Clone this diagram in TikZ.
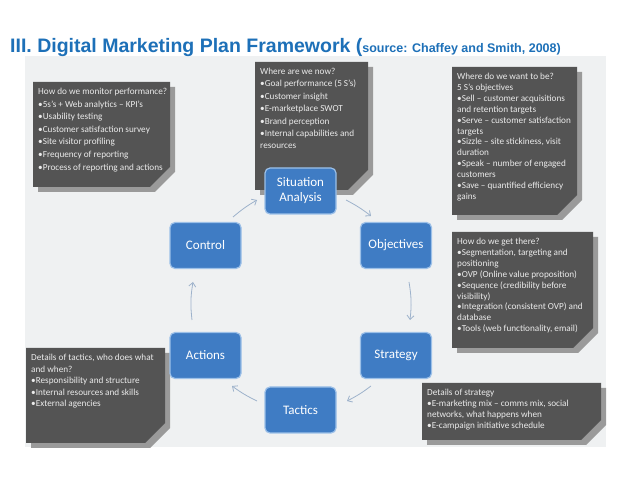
\documentclass[tikz,border=0pt]{standalone}
\usepackage{fontspec}
\setmainfont{Carlito}
\newfontfamily\titlefont{Liberation Sans}
\usetikzlibrary{arrows.meta}
\definecolor{bgc}{HTML}{EFF1F2}
\definecolor{darkc}{HTML}{545454}
\definecolor{shadc}{HTML}{9A9A9A}
\definecolor{bluec}{HTML}{3F7CC4}
\definecolor{blueb}{HTML}{9CC0E8}
\definecolor{titc}{HTML}{1D70B8}
\definecolor{arrc}{HTML}{9DB2CB}
\tikzset{
 stage/.style={draw=blueb,line width=1.2pt,fill=bluec,rounded corners=5pt,minimum width=71pt,minimum height=46pt,text=white,font=\fontsize{13}{15}\selectfont,align=center,inner sep=1pt},
 note/.style={anchor=north west,text=white!92!black,align=flush left,inner sep=0pt},
 flow/.style={draw=arrc,line width=0.8pt,-{Straight Barb[length=4pt,width=7pt]}}
}
\newcommand{\darkbox}[6]{%
 \fill[shadc] (#1+5,#2+5) -- (#3+5,#2+5) -- (#3+5,#4+5-20) -- (#3+5-20,#4+5) -- (#1+5,#4+5) -- cycle;
 \fill[darkc] (#1,#2) -- (#3,#2) -- (#3,#4-20) -- (#3-20,#4) -- (#1,#4) -- cycle;
 \node[note,text width=#3-#1-6,font=\fontsize{9.2}{#6}\selectfont] at (#1+5,#2+6) {#5};}
\begin{document}
\begin{tikzpicture}[x=1pt,y=-1pt]
\useasboundingbox (0,0) rectangle (638,478);
\fill[white] (0,0) rectangle (638,478);
\fill[bgc] (25,56) rectangle (606,447);
\node[anchor=base west,inner sep=0pt,text=titc,font=\titlefont\bfseries] (title) at (10,53)
 {{\fontsize{19.5}{22}\selectfont III. Digital Marketing Plan Framework (}{\fontsize{12.5}{14}\selectfont source: Chaffey and Smith, 2008)}};
% dark notes
\darkbox{33}{82}{170}{187}{How do we monitor performance?\\•5s’s + Web analytics – KPI’s\\•Usability testing\\•Customer satisfaction survey\\•Site visitor profiling\\•Frequency of reporting\\•Process of reporting and actions}{12.6}
\darkbox{255}{62}{368}{190}{Where are we now?\\•Goal performance (5 S’s)\\•Customer insight\\•E-marketplace SWOT\\•Brand perception\\•Internal capabilities and resources}{12.4}
\darkbox{452}{67}{577}{215}{Where do we want to be?\\5 S’s objectives\\•Sell – customer acquisitions and retention targets\\•Serve – customer satisfaction targets\\•Sizzle – site stickiness, visit duration\\•Speak – number of engaged customers\\•Save – quantified efficiency gains}{10.9}
\darkbox{452}{232}{593}{348}{How do we get there?\\•Segmentation, targeting and positioning\\•OVP (Online value proposition)\\•Sequence (credibility before visibility)\\•Integration (consistent OVP) and database\\•Tools (web functionality, email)}{10.9}
\darkbox{422}{383}{601}{440}{Details of strategy\\•E-marketing mix – comms mix, social networks, what happens when\\•E-campaign initiative schedule}{11}
\darkbox{26}{348}{165}{443}{Details of tactics, who does what and when?\\•Responsibility and structure\\•Internal resources and skills\\•External agencies}{11.5}
% stages
\node[stage] (sit) at (300.5,191) {Situation\\Analysis};
\node[stage] (obj) at (396,245.5) {Objectives};
\node[stage] (str) at (396,355.5) {Strategy};
\node[stage] (tac) at (300.5,410) {Tactics};
\node[stage] (act) at (205.5,355.5) {Actions};
\node[stage] (con) at (205.5,245.5) {Control};
% connectors
\coordinate (a1) at (233,217); \coordinate (a2) at (257,200);
\coordinate (b1) at (346,200); \coordinate (b2) at (371,216);
\coordinate (c1) at (409,282); \coordinate (c2) at (410,320);
\coordinate (d1) at (371,386); \coordinate (d2) at (347,401);
\coordinate (e1) at (257,401); \coordinate (e2) at (232,386);
\coordinate (f1) at (192,320); \coordinate (f2) at (193,282);
\draw[flow] (a1) to[bend left=5] (a2);
\draw[flow] (b1) to[bend left=5] (b2);
\draw[flow] (c1) to[bend left=8] (c2);
\draw[flow] (d1) to[bend left=5] (d2);
\draw[flow] (e1) to[bend left=5] (e2);
\draw[flow] (f1) to[bend left=8] (f2);
\end{tikzpicture}
\end{document}
